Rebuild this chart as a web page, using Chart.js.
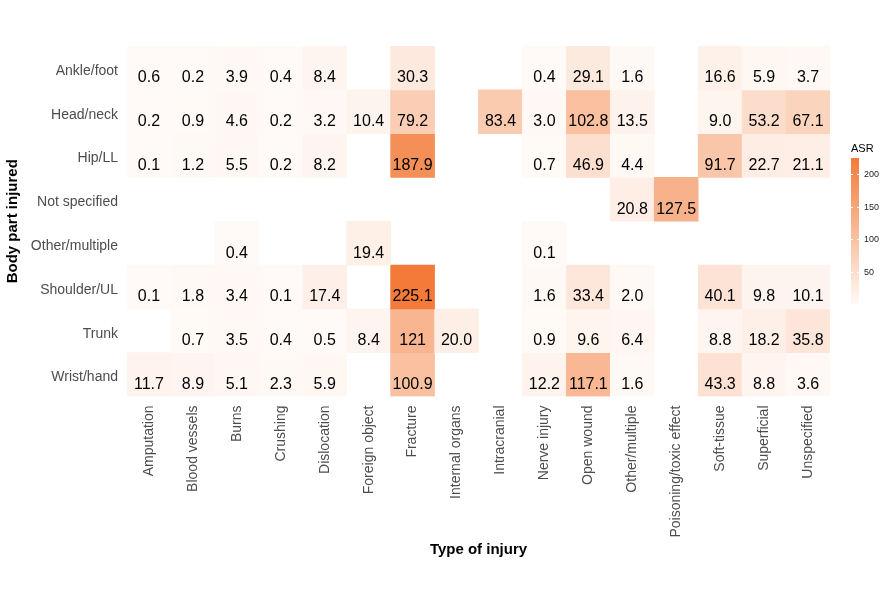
<!DOCTYPE html>
<html>
<head>
<meta charset="utf-8">
<script src="https://cdn.jsdelivr.net/npm/chart.js@4/dist/chart.umd.min.js"></script>
<style>
  html, body { margin: 0; padding: 0; background: #fff; }
  #wrap { width: 890px; height: 600px; }
</style>
</head>
<body>
<div id="wrap"><canvas id="heat"></canvas></div>
<script>
// injury types (x) and body parts (y)
const injuryTypes = ['Amputation', 'Blood vessels', 'Burns', 'Crushing', 'Dislocation', 'Foreign object',
  'Fracture', 'Internal organs', 'Intracranial', 'Nerve injury', 'Open wound', 'Other/multiple',
  'Poisoning/toxic effect', 'Soft-tissue', 'Superficial', 'Unspecified'];
const bodyParts = ['Ankle/foot', 'Head/neck', 'Hip/LL', 'Not specified', 'Other/multiple',
  'Shoulder/UL', 'Trunk', 'Wrist/hand'];

// ASR per body part, one value per injury type (null = no tile)
const ankleFoot     = [0.6, 0.2, 3.9, 0.4, 8.4, null, 30.3, null, null, 0.4, 29.1, 1.6, null, 16.6, 5.9, 3.7];
const headNeck      = [0.2, 0.9, 4.6, 0.2, 3.2, 10.4, 79.2, null, 83.4, 3.0, 102.8, 13.5, null, 9.0, 53.2, 67.1];
const hipLL         = [0.1, 1.2, 5.5, 0.2, 8.2, null, 187.9, null, null, 0.7, 46.9, 4.4, null, 91.7, 22.7, 21.1];
const notSpecified  = [null, null, null, null, null, null, null, null, null, null, null, 20.8, 127.5, null, null, null];
const otherMultiple = [null, null, 0.4, null, null, 19.4, null, null, null, 0.1, null, null, null, null, null, null];
const shoulderUL    = [0.1, 1.8, 3.4, 0.1, 17.4, null, 225.1, null, null, 1.6, 33.4, 2.0, null, 40.1, 9.8, 10.1];
const trunk         = [null, 0.7, 3.5, 0.4, 0.5, 8.4, 121, 20.0, null, 0.9, 9.6, 6.4, null, 8.8, 18.2, 35.8];
const wristHand     = [11.7, 8.9, 5.1, 2.3, 5.9, null, 100.9, null, null, 12.2, 117.1, 1.6, null, 43.3, 8.8, 3.6];

const rowValues = [ankleFoot, headNeck, hipLL, notSpecified, otherMultiple, shoulderUL, trunk, wristHand];
const legendTicks = [50, 100, 150, 200];

const FONT = '"Liberation Sans", Arial, sans-serif';
Chart.defaults.font.family = FONT;

const all = rowValues.flat().filter(v => v != null);
const vMin = Math.min(...all), vMax = Math.max(...all);
const low = [255, 250, 247], high = [243, 122, 56];

function fillColour(v) {
  const t = Math.max(0, Math.min(1, (v - vMin) / (vMax - vMin)));
  const c = low.map((l, i) => Math.round(l + (high[i] - l) * t));
  return `rgb(${c[0]},${c[1]},${c[2]})`;
}

function fmt(v) {
  return (Number.isInteger(v) && v >= 100) ? String(v) : v.toFixed(1);
}

const datasets = rowValues.map((vals, r) => ({
  label: bodyParts[r],
  values: vals,
  data: vals.map(v => v == null ? null : [r + 0.5, r + 1.5]),
  backgroundColor: vals.map(v => v == null ? 'rgba(0,0,0,0)' : fillColour(v)),
  borderWidth: 0,
  borderSkipped: false,
  categoryPercentage: 1,
  barPercentage: 1,
  grouped: false
}));

const cellText = {
  id: 'cellText',
  afterDatasetsDraw(chart) {
    const ctx = chart.ctx;
    ctx.save();
    ctx.font = '16px ' + FONT;
    ctx.fillStyle = '#000';
    ctx.textAlign = 'center';
    ctx.textBaseline = 'middle';
    chart.data.datasets.forEach((ds, i) => {
      chart.getDatasetMeta(i).data.forEach((bar, j) => {
        const v = ds.values[j];
        if (v == null) return;
        ctx.fillText(fmt(v), bar.x, (bar.y + bar.base) / 2 + 10);
      });
    });
    ctx.restore();
  }
};

// colourbar legend on the right
const colourBar = {
  id: 'colourBar',
  afterDraw(chart) {
    const ctx = chart.ctx;
    const x = 851, w = 8, top = 158, bottom = 304;
    const yOf = v => bottom - (v - vMin) / (vMax - vMin) * (bottom - top);
    ctx.save();
    const g = ctx.createLinearGradient(0, bottom, 0, top);
    for (let k = 0; k <= 10; k++) {
      g.addColorStop(k / 10, fillColour(vMin + (vMax - vMin) * k / 10));
    }
    ctx.fillStyle = g;
    ctx.fillRect(x, top, w, bottom - top);
    ctx.strokeStyle = '#fff';
    ctx.lineWidth = 1;
    ctx.font = '9px ' + FONT;
    ctx.fillStyle = '#222';
    ctx.textAlign = 'left';
    ctx.textBaseline = 'middle';
    legendTicks.forEach(t => {
      const y = Math.round(yOf(t)) + 0.5;
      ctx.beginPath();
      ctx.moveTo(x, y); ctx.lineTo(x + 2, y);
      ctx.moveTo(x + w - 2, y); ctx.lineTo(x + w, y);
      ctx.stroke();
      ctx.fillText(String(t), x + w + 5, y);
    });
    ctx.font = '11px ' + FONT;
    ctx.fillStyle = '#000';
    ctx.textBaseline = 'alphabetic';
    ctx.fillText('ASR', x, 152);
    ctx.restore();
  }
};

new Chart(document.getElementById('heat'), {
  type: 'bar',
  data: { labels: injuryTypes, datasets },
  options: {
    responsive: true,
    maintainAspectRatio: false,
    animation: false,
    layout: { padding: { left: 0, top: 46, right: 60, bottom: 0 } },
    plugins: {
      legend: { display: false },
      tooltip: { enabled: false }
    },
    scales: {
      x: {
        type: 'category',
        grid: { display: false, drawTicks: false },
        border: { display: false },
        ticks: {
          autoSkip: false, minRotation: 90, maxRotation: 90, padding: 9,
          color: '#4d4d4d', font: { size: 14 }
        },
        title: {
          display: true, text: 'Type of injury', color: '#000',
          font: { size: 15, weight: 'bold' }, padding: { top: 0, bottom: 41 }
        },
        afterFit: s => { s.height = 203.5; }
      },
      y: {
        type: 'linear',
        min: 0.5, max: 8.5, reverse: true,
        grid: { display: false, drawTicks: false },
        border: { display: false },
        afterBuildTicks: s => { s.ticks = bodyParts.map((_, i) => ({ value: i + 1 })); },
        ticks: {
          padding: 9, labelOffset: 3, color: '#4d4d4d', font: { size: 14 },
          callback: v => bodyParts[v - 1]
        },
        title: {
          display: true, text: 'Body part injured', color: '#000',
          font: { size: 15, weight: 'bold' }, padding: { top: 4, bottom: 0 }
        },
        afterFit: s => { s.width = 127; }
      }
    }
  },
  plugins: [cellText, colourBar]
});
</script>
</body>
</html>
